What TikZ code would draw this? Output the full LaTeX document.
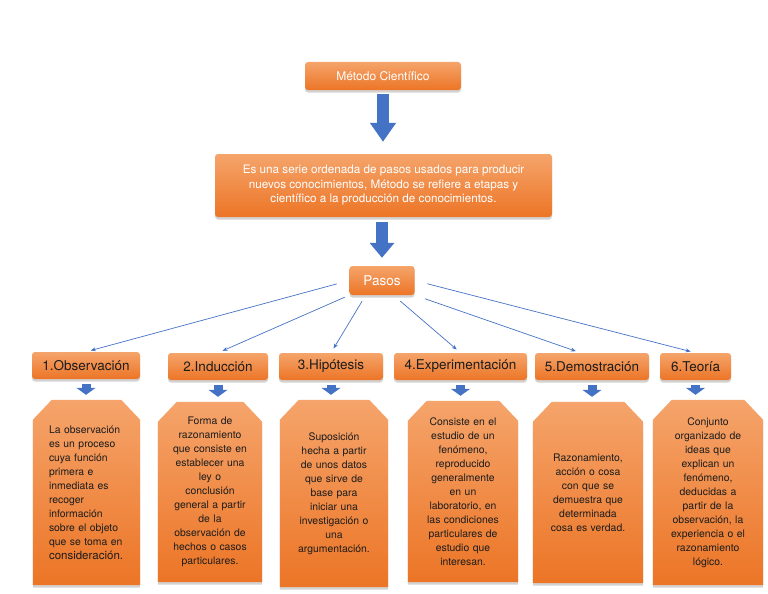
\documentclass[tikz,border=0pt]{standalone}
\usepackage{fontspec}
\setmainfont{TeX Gyre Heros}
\usepackage{tikz}
\usetikzlibrary{shapes, arrows, arrows.meta, calc, positioning, shadows, backgrounds}

\definecolor{naranjaclaro}{HTML}{F5A46B}
\definecolor{naranjaoscuro}{HTML}{EC7526}
\definecolor{azul}{HTML}{4472C4}
\definecolor{oscuro}{HTML}{1C1C1C}

\begin{document}
\begin{tikzpicture}[x=1pt, y=-1pt, >=stealth]
	\tikzstyle{sombra} = [drop shadow={shadow xshift=0pt, shadow yshift=-2.5pt, opacity=0.35}]
	\tikzstyle{caja} = [rounded corners=3pt, top color=naranjaclaro, bottom color=naranjaoscuro, sombra, text=white, inner sep=0pt, align=center]
	\tikzstyle{paso} = [caja, text=oscuro, minimum height=27pt, font=\fontsize{13.5}{16}\selectfont]
	\tikzstyle{detalle} = [rectangle, text=oscuro, inner sep=0pt, align=center, text width=96pt, font=\fontsize{10.4}{14}\selectfont]
	\tikzstyle{fondo} = [top color=naranjaclaro, bottom color=naranjaoscuro, sombra]
	\tikzstyle{flecha} = [draw=azul, line width=12pt, -{Triangle[width=25pt, length=19pt]}]
	\tikzstyle{flechita} = [draw=azul, line width=9pt, -{Triangle[width=19pt, length=7pt]}, shorten <=5pt, shorten >=5pt]
	\tikzstyle{linea} = [draw=azul, line width=0.7pt, -{Stealth[length=5pt, width=4pt]}, shorten >=5pt]

	\useasboundingbox (0,0) rectangle (768,594);

	% cabecera
	\node[caja, minimum width=156pt, minimum height=28pt, font=\fontsize{12}{14}\selectfont] (metodo) at (383,76) {Método Científico};
	\node[caja, minimum width=337pt, minimum height=63pt, font=\fontsize{11.7}{14.5}\selectfont] (desc) at (383.5,185.5)
		{Es una serie ordenada de pasos usados para producir\\nuevos conocimientos, Método se refiere a etapas y\\científico a la producción de conocimientos.};
	\node[caja, minimum width=65pt, minimum height=29pt, font=\fontsize{13.5}{16}\selectfont] (pasos) at (382,280.5) {Pasos};

	\draw[flecha, shorten <=4pt, shorten >=12pt] (metodo.south) -- (metodo.south |- desc.north);
	\draw[flecha, -{Triangle[width=24pt, length=15pt]}, shorten <=5pt, shorten >=8pt] (desc.south -| pasos.north) -- (pasos.north);

	% pasos
	\node[paso, minimum width=108pt] (observacion) at (86,365.5) {1.Observación};
	\node[paso, minimum width=100pt] (induccion) at (218,366.5) {2.Inducción};
	\node[paso, minimum width=104pt] (hipotesis) at (331,366.5) {3.Hipótesis};
	\node[paso, minimum width=133pt] (experimentacion) at (460.5,366.5) {4.Experimentación};
	\node[paso, minimum width=114pt] (demostracion) at (592,366.5) {5.Demostración};
	\node[paso, minimum width=71pt] (teoria) at (695.5,366.5) {6.Teoría};

	\draw[linea, shorten <=13pt] (pasos.west) -- (observacion.north);
	\draw[linea, shorten <=5pt] (pasos.south west) -- (induccion.north);
	\draw[linea, shorten <=7pt] ($(pasos.south)!0.5!(pasos.south west)$) -- (hipotesis.north);
	\draw[linea, shorten <=9pt] ($(pasos.south)!0.35!(pasos.south east)$) -- (experimentacion.north);
	\draw[linea, shorten <=11pt] (pasos.south east) -- ($(demostracion.north west)!0.4!(demostracion.north east)$);
	\draw[linea, shorten <=13pt] (pasos.east) -- (teoria.north);

	% definiciones
	\node[detalle, minimum width=107pt, minimum height=185pt, align=left, text width=75pt] (obstexto) at (86.5,492.5)
		{La observación\\es un proceso\\cuya función\\primera e\\inmediata es\\recoger\\información\\sobre el objeto\\que se toma en\\{\fontsize{11.5}{14}\selectfont consideración.}};
	\node[detalle, minimum width=104pt, minimum height=180pt] (indtexto) at (210,492)
		{Forma de\\razonamiento\\que consiste en\\establecer una\\ley o\\conclusión\\general a partir\\de la\\observación de\\hechos o casos\\particulares.};
	\node[detalle, minimum width=108pt, minimum height=187pt] (hiptexto) at (334,493.5)
		{Suposición\\hecha a partir\\de unos datos\\que sirve de\\base para\\iniciar una\\investigación o\\una\\argumentación.};
	\node[detalle, minimum width=110pt, minimum height=181pt] (exptexto) at (463,491.5)
		{Consiste en el\\estudio de un\\fenómeno,\\reproducido\\generalmente\\en un\\laboratorio, en\\las condiciones\\particulares de\\estudio que\\interesan.};
	\node[detalle, minimum width=110pt, minimum height=181pt] (demtexto) at (588,492.5)
		{Razonamiento,\\acción o cosa\\con que se\\demuestra que\\determinada\\cosa es verdad.};
	\node[detalle, minimum width=110pt, minimum height=185pt] (teotexto) at (708,492.5)
		{Conjunto\\organizado de\\ideas que\\explican un\\fenómeno,\\deducidas a\\partir de la\\observación, la\\experiencia o el\\razonamiento\\lógico.};

	% esquinas cortadas detras del texto
	\begin{scope}[on background layer]
		\foreach \n in {obstexto, indtexto, hiptexto, exptexto, demtexto, teotexto}
			\shade[fondo] (\n.south west) -- ($(\n.north west)+(0,20)$) -- ($(\n.north west)+(19,0)$)
				-- ($(\n.north east)+(-19,0)$) -- ($(\n.north east)+(0,20)$) -- (\n.south east) -- cycle;
	\end{scope}

	\foreach \a/\b in {observacion/obstexto, induccion/indtexto, hipotesis/hiptexto, experimentacion/exptexto, demostracion/demtexto, teoria/teotexto}
		\draw[flechita] (\a.south) -- (\a.south |- \b.north);
\end{tikzpicture}
\end{document}
